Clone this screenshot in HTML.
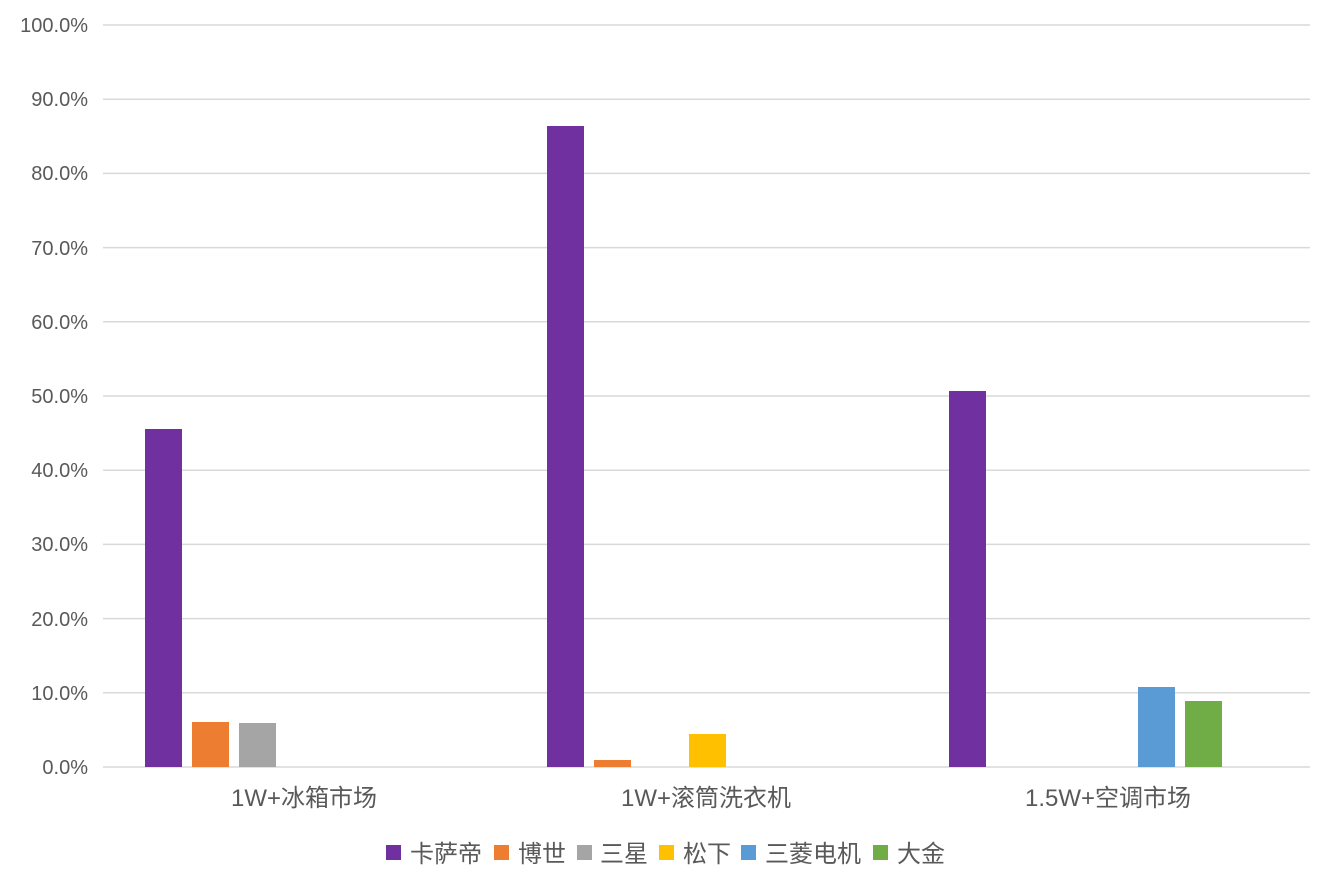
<!DOCTYPE html>
<html><head><meta charset="utf-8"><style>
body{margin:0;background:#fff;}
svg text{font-family:"Liberation Sans","Noto Sans CJK SC",sans-serif;fill:#595959;font-size:20px;}
svg text.big{font-size:24px;}
</style></head><body>
<svg width="1334" height="889" xmlns="http://www.w3.org/2000/svg">
<g stroke="#d9d9d9" stroke-width="1.5">
<line x1="103" x2="1310" y1="25" y2="25"/><line x1="103" x2="1310" y1="99.2" y2="99.2"/>
<line x1="103" x2="1310" y1="173.4" y2="173.4"/><line x1="103" x2="1310" y1="247.6" y2="247.6"/>
<line x1="103" x2="1310" y1="321.8" y2="321.8"/><line x1="103" x2="1310" y1="396" y2="396"/>
<line x1="103" x2="1310" y1="470.2" y2="470.2"/><line x1="103" x2="1310" y1="544.4" y2="544.4"/>
<line x1="103" x2="1310" y1="618.6" y2="618.6"/><line x1="103" x2="1310" y1="692.8" y2="692.8"/>
<line x1="103" x2="1310" y1="767" y2="767"/>
</g>
<g text-anchor="end">
<text x="88" y="32">100.0%</text><text x="88" y="106">90.0%</text><text x="88" y="180">80.0%</text>
<text x="88" y="255">70.0%</text><text x="88" y="329">60.0%</text><text x="88" y="403">50.0%</text>
<text x="88" y="477">40.0%</text><text x="88" y="551">30.0%</text><text x="88" y="626">20.0%</text>
<text x="88" y="700">10.0%</text><text x="88" y="774">0.0%</text>
</g>
<rect x="145" y="429" width="37" height="338" fill="#7030a0"/>
<rect x="192" y="722" width="37" height="45" fill="#ed7d31"/>
<rect x="239" y="723" width="37" height="44" fill="#a5a5a5"/>
<rect x="547" y="126" width="37" height="641" fill="#7030a0"/>
<rect x="594" y="760" width="37" height="7" fill="#ed7d31"/>
<rect x="689" y="734" width="37" height="33" fill="#ffc000"/>
<rect x="949" y="391" width="37" height="376" fill="#7030a0"/>
<rect x="1138" y="687" width="37" height="80" fill="#5b9bd5"/>
<rect x="1185" y="701" width="37" height="66" fill="#70ad47"/>
<g text-anchor="middle">
<text class="big" x="304" y="806">1W+冰箱市场</text>
<text class="big" x="706" y="806">1W+滚筒洗衣机</text>
<text class="big" x="1108" y="806">1.5W+空调市场</text>
</g>
<rect x="386" y="845" width="15" height="15" fill="#7030a0"/><text class="big" x="410" y="862">卡萨帝</text>
<rect x="494" y="845" width="15" height="15" fill="#ed7d31"/><text class="big" x="518" y="862">博世</text>
<rect x="577" y="845" width="15" height="15" fill="#a5a5a5"/><text class="big" x="600" y="862">三星</text>
<rect x="659" y="845" width="15" height="15" fill="#ffc000"/><text class="big" x="683" y="862">松下</text>
<rect x="741" y="845" width="15" height="15" fill="#5b9bd5"/><text class="big" x="765" y="862">三菱电机</text>
<rect x="873" y="845" width="15" height="15" fill="#70ad47"/><text class="big" x="897" y="862">大金</text>
</svg>
</body></html>
